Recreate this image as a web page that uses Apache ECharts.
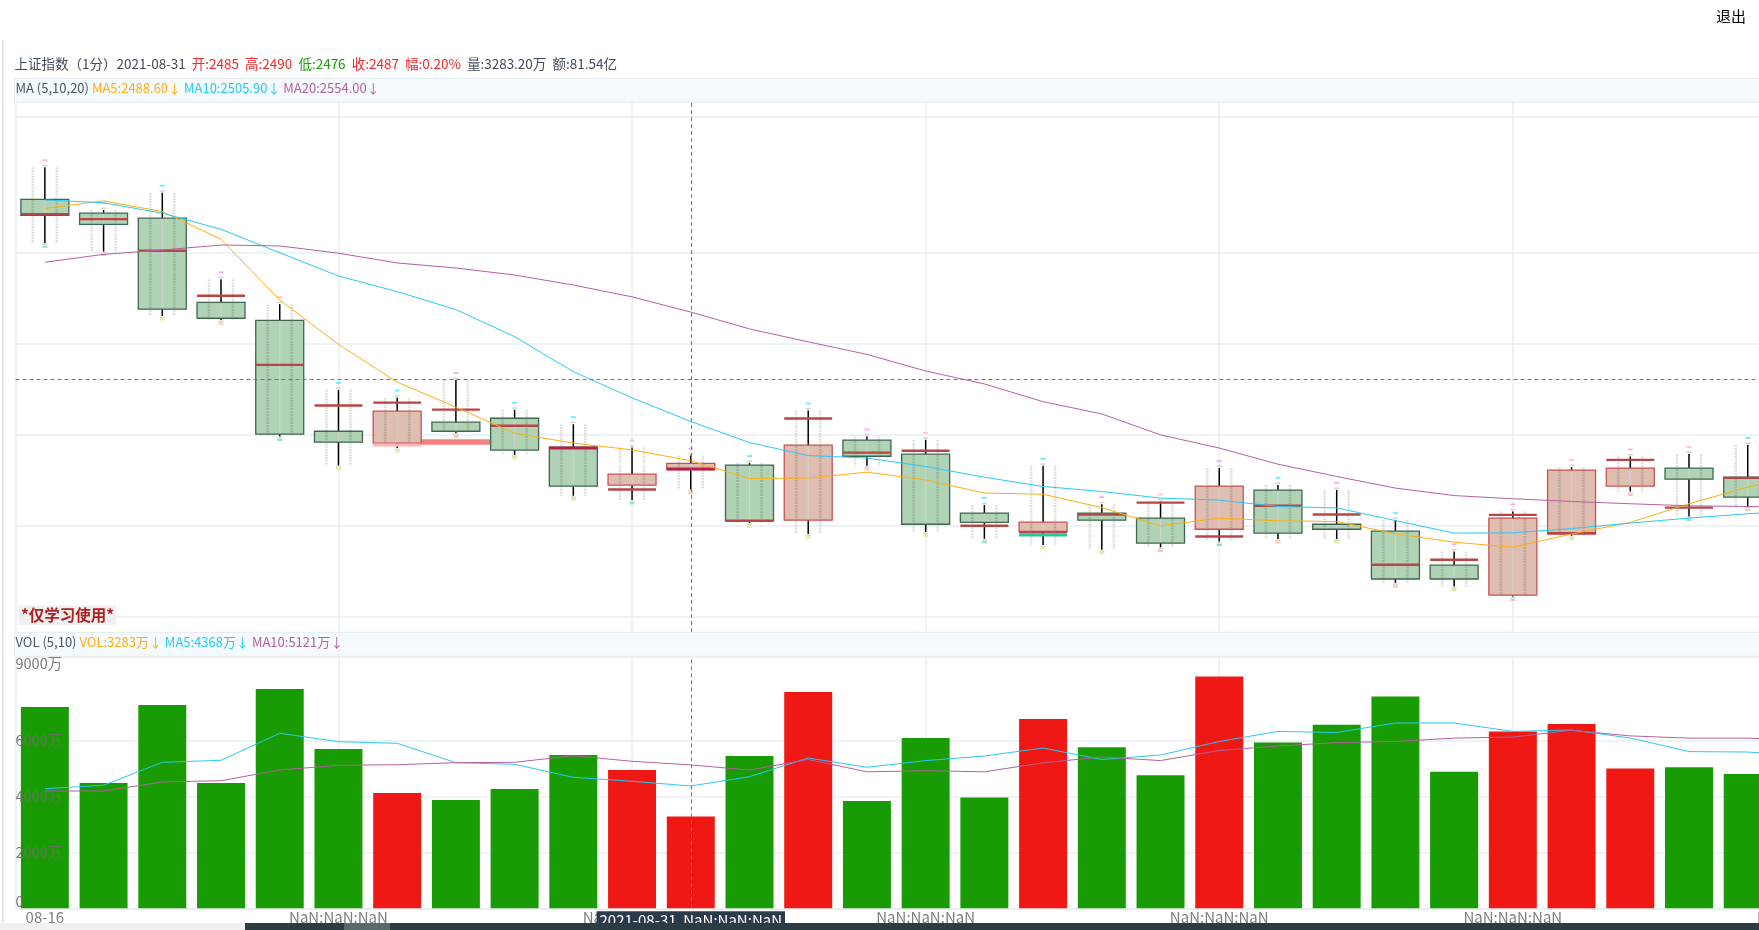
<!DOCTYPE html>
<html>
<head>
<meta charset="utf-8"/>
<title>上证指数 K线</title>
<style>
html,body{margin:0;padding:0;background:#fff;overflow:hidden}
#main{width:1759px;height:930px}
</style>
<script src="https://cdn.jsdelivr.net/npm/echarts@6/dist/echarts.min.js"></script>
</head>
<body>
<div id="main"></div>
<script>
var categories = ['2021-08-16','2021-08-17','2021-08-18','2021-08-19','2021-08-20','2021-08-23','2021-08-24','2021-08-25','2021-08-26','2021-08-27','2021-08-30','2021-08-31','2021-09-01','2021-09-02','2021-09-03','2021-09-06','2021-09-07','2021-09-08','2021-09-09','2021-09-10','2021-09-13','2021-09-14','2021-09-15','2021-09-16','2021-09-17','2021-09-20','2021-09-21','2021-09-22','2021-09-23','2021-09-24','2021-09-27'];
var firstTick = '08-16';
var otherTick = 'NaN:NaN:NaN';
var opens  = [2603.6,2597.5,2595.3,2558.3,2550.4,2501.6,2496.4,2505.6,2507.3,2494.6,2477.9,2484.7,2486.7,2462.5,2497.7,2491.5,2465.6,2457.5,2465.6,2463.4,2458.5,2475.7,2460.7,2457.7,2442.7,2429.5,2456.4,2477.5,2485.4,2481.4];
var closes = [2596.6,2592.6,2555.3,2551.3,2500.3,2496.8,2510.4,2501.6,2493.3,2477.5,2482.7,2487.5,2462.3,2495.5,2490.6,2460.7,2461.5,2461.6,2462.5,2452.4,2477.5,2456.8,2458.5,2436.6,2436.6,2463.4,2484.5,2485.4,2480.5,2472.6];
var lows   = [2584.3,2580.6,2552.3,2550.5,2499.3,2486.5,2494.2,2500.7,2491.2,2473.2,2471.4,2476,2461.2,2456.4,2486.4,2457.2,2454.3,2451.6,2449.5,2450.5,2453.1,2454.2,2454.2,2434.8,2433.3,2428.9,2455.6,2475.1,2464.1,2468.5];
var highs  = [2617.7,2598.9,2606.5,2568.4,2557.5,2519.8,2516.4,2524.2,2511,2504.7,2494.4,2490.9,2487.6,2510.7,2499.3,2497.8,2469.2,2486.4,2469.5,2470.7,2485.4,2478,2475.8,2462.6,2448.7,2466.3,2485.8,2490.5,2491.6,2495.6];
var marks  = [2597,2594.9,2581,2561.2,2530.8,2512.9,2514.2,2511.1,2504,2494.2,2476,2485,2462.2,2507.2,2492.2,2493,2460,2457.2,2465,2470.2,2455.3,2468.8,2465,2442.9,2445.1,2464.8,2456.8,2489,2468,2481.1];
var topTags    = 'ppcmpccmccpmccmpccmpmcmcmmpmpc'.split('');
var bottomTags = 'tklotllolltolloltllotolololoto'.split('');
var strongMarks = [9, 11];
var sideMarks = [[6, 2495.5, 'k'], [17, 2456, 's']];
var band = [6, 8, 2498.1, 2495.7];
var ma5  = [2599.6,2602.9,2598.2,2586,2559.3,2539.8,2523.2,2512.2,2500.7,2496.4,2493.4,2488.6,2480.8,2481,2483.6,2480.2,2474.4,2473.9,2468,2460,2463.4,2462.2,2461.9,2456.5,2452.8,2450.6,2456.4,2461.5,2469.7,2477,2482.5];
var ma10 = [2603.3,2602.1,2597.5,2590.4,2580.1,2569.9,2563,2555.1,2543.2,2527.8,2516.3,2505.9,2496.6,2490.9,2489.8,2486.1,2481.4,2477.3,2475.1,2472.2,2471.3,2468.5,2467.9,2462.3,2456.8,2456.9,2458.8,2461.2,2463.4,2465.3,2467];
var ma20 = [2575.9,2579.4,2581.3,2583.5,2583.1,2579.9,2575.6,2573.4,2570.3,2565.9,2560.7,2554,2546.6,2540.9,2535.4,2528.1,2522.4,2514.6,2509.2,2500,2494.2,2487.1,2481.7,2476.6,2473.3,2471.9,2470.7,2469.7,2468.8,2468.5,2468.1];
var priceLines = [2420,2460,2500,2540,2580,2640];
var crossIndex = 11;
var crossPrice = 2524.5;
var volumes = [7189,4475,7261,4475,7832,5689,4118,3868,4261,5475,4939,3283,5439,7725,3833,6082,3954,6761,5754,4754,8282,5918,6557,7560,4875,6318,6582,4996,5036,4796];
var volMa5  = [4271,4393,5214,5286,6250,5950,5893,5200,5143,4679,4536,4368,4700,5368,5036,5275,5439,5725,5314,5475,5957,6318,6279,6618,6618,6318,6368,6082,5596,5582,5439];
var volMa10 = [4189,4189,4511,4557,4939,5107,5129,5200,5214,5450,5250,5121,4939,5314,4875,4914,4875,5196,5404,5275,5636,5796,5918,5957,6078,6118,6357,6157,6078,6078,5996];
var volTicks = [0,2000,4000,6000,9000];

var FONT = '"Noto Sans CJK SC", "Noto Sans", sans-serif';
var UP = '#f01814', DOWN = '#189b03';
var C_MA5 = '#ffae12', C_MA10 = '#2ac8f5', C_MA20 = '#b4619f';
var tagColors = {p:'#ffc7d2', c:'#6ff2f5', m:'#f7b3ee', t:'#8fdcd8', k:'#ffb4bc', l:'#d2f57d', o:'#ffc4a8', s:'#2fc29a'};

var chart = echarts.init(document.getElementById('main'));

function renderCandle(params, api) {
	var i = api.value(0), o = api.value(1), c = api.value(2);
	var x = api.coord([i, o])[0];
	var yO = api.coord([i, o])[1], yC = api.coord([i, c])[1];
	var yL = api.coord([i, api.value(3)])[1], yH = api.coord([i, api.value(4)])[1];
	var yM = api.coord([i, api.value(5)])[1];
	var up = c >= o;
	var w = api.size([1, 0])[0] * 0.817;
	var kids = [];
	function seg(x1, y1, x2, y2, style) {
		kids.push({type:'line', shape:{x1:x1, y1:y1, x2:x2, y2:y2}, style:style});
	}
	function rect(x0, y0, rw, rh, fill) {
		kids.push({type:'rect', shape:{x:x0, y:y0, width:rw, height:rh}, style:{fill:fill}});
	}
	var col = {stroke:'rgba(130,135,130,0.26)', lineWidth:2.6, lineDash:[2,0.8]};
	seg(x-12, yH, x-12, yL, col);
	seg(x+12, yH, x+12, yL, col);
	seg(x, yH, x, yL, {stroke:'#000', lineWidth:1.5});
	var top = Math.min(yO, yC), h = Math.abs(yO - yC);
	kids.push({type:'rect', shape:{x:x-w/2, y:top, width:w, height:h}, style:{
		fill: up ? '#e0bdb1' : '#b0d3b6', stroke: up ? '#c65353' : '#3f6650', lineWidth:1.3}});
	seg(x, top+1, x, top+h-1, {stroke:'#d2d2d2', lineWidth:1});
	seg(x-12, top+1, x-12, top+h-1, {stroke:'rgba(110,120,110,0.3)', lineWidth:2.6, lineDash:[2,0.8]});
	seg(x+12, top+1, x+12, top+h-1, {stroke:'rgba(110,120,110,0.3)', lineWidth:2.6, lineDash:[2,0.8]});
	var strong = strongMarks.indexOf(i) >= 0;
	rect(x-w/2, yM-(strong?1.5:1.2), w, strong?3:2.4, strong ? '#b81e48' : '#b84646');
	sideMarks.forEach(function (s) {
		if (s[0] === i) {
			var sy = api.coord([i, s[1]])[1];
			rect(x-w/2, sy-1.5, w, 3, tagColors[s[2]]);
		}
	});
	// tiny tags above and below the wick
	rect(x-2.5, yH-2.5, 5, 1.5, '#d4d4d4');
	rect(x-2.5, yH-8, 5, 2, tagColors[topTags[i]]);
	rect(x-2.5, yL+0.5, 5, 1.5, '#d4d4d4');
	rect(x-2.5, yL+2.5, 5, 2, tagColors[bottomTags[i]]);
	return {type:'group', children:kids};
}

function renderBand(params, api) {
	var a = api.coord([api.value(0), api.value(2)]);
	var b = api.coord([api.value(1), api.value(3)]);
	return {type:'rect', shape:{x:a[0], y:a[1], width:b[0]-a[0], height:b[1]-a[1]}, style:{fill:'#f58282'}};
}

var candleData = opens.map(function (o, i) {
	return [i, o, closes[i], lows[i], highs[i], marks[i]];
});
var volData = volumes.map(function (v, i) {
	return {value:v, itemStyle:{color: closes[i] >= opens[i] ? UP : DOWN}};
});

function axisX(gridIndex, withLabel) {
	return {
		type:'category', gridIndex:gridIndex, data:categories, boundaryGap:true,
		axisTick:{show:false},
		axisLine:{show:withLabel, onZero:false, lineStyle:{color:'#e6eef4', width:1.5}},
		axisLabel:{
			show:withLabel, interval:function (i) { return i % 5 === 0; }, margin:1,
			color:'#7f7f7f', fontSize:15, fontFamily:FONT, hideOverlap:false,
			formatter:function (v, i) { return i === 0 ? firstTick : otherTick; }
		},
		splitLine:{show:true, alignWithLabel:true, interval:function (i) { return i % 5 === 0 && i > 0; },
			lineStyle:{color:'#e6eef4', width:1.5}},
		axisPointer:{
			show:true, status:'show', value:crossIndex, type:'line', triggerTooltip:false,
			lineStyle:{color:'#777', type:[4,3], width:1},
			label:{
				show:withLabel, margin:3, padding:[1,3,1,3], borderRadius:0,
				backgroundColor:'#2c3a4b', color:'#fff', fontSize:15, fontFamily:FONT,
				formatter:function () { return categories[crossIndex] + '  ' + otherTick; }
			}
		}
	};
}

var option = {
	animation:false,
	backgroundColor:'#fff',
	textStyle:{fontFamily:FONT},
	grid:[
		{left:15.5, top:102, width:1820.3, height:530, outerBoundsMode:'none'},
		{left:15.5, top:656.3, width:1820.3, height:252, outerBoundsMode:'none'}
	],
	xAxis:[axisX(0, false), axisX(1, true)],
	yAxis:[
		{
			type:'value', gridIndex:0, min:2413.3, max:2646.4, scale:true,
			axisLine:{show:true, lineStyle:{color:'#e6eef4', width:1.5}},
			axisTick:{show:false, customValues:priceLines},
			axisLabel:{show:false, customValues:priceLines},
			splitLine:{show:true, lineStyle:{color:'#e6eef4', width:1.5}},
			axisPointer:{show:true, status:'show', value:crossPrice, triggerTooltip:false,
				lineStyle:{color:'#777', type:[4,3], width:1}, label:{show:false}}
		},
		{
			type:'value', gridIndex:1, min:0, max:9000,
			axisLine:{show:true, lineStyle:{color:'#e6eef4', width:1.5}},
			axisTick:{show:false, customValues:volTicks},
			axisLabel:{show:false, customValues:volTicks},
			splitLine:{show:true, lineStyle:{color:'#e6eef4', width:1.5}}
		},
		// same scale again, only to put the labels on top of the bars
		{
			type:'value', gridIndex:1, min:0, max:9000, z:10,
			position:'left',
			axisLine:{show:false}, splitLine:{show:false},
			axisTick:{show:false, customValues:volTicks},
			axisLabel:{
				inside:true, customValues:volTicks, margin:0, color:'rgba(110,110,110,0.9)', fontSize:14.5, fontFamily:FONT,
				verticalAlignMinLabel:'bottom', verticalAlignMaxLabel:'top',
				formatter:function (v) { return v === 0 ? '0' : v + '万'; }
			}
		}
	],
	title:[
		{left:14.5, top:57, padding:0, textStyle:{
			fontSize:13.5, fontWeight:'normal', color:'#3f4a5a', fontFamily:FONT,
			rich:{
				n:{color:'#3f4a5a', fontSize:13.5, fontFamily:FONT},
				r:{color:'#ef2b2b', fontSize:13.5, fontFamily:FONT},
				g:{color:'#1b9e0a', fontSize:13.5, fontFamily:FONT}
			}},
			text:'{n|上证指数（1分）2021-08-31}  {r|开:2485}  {r|高:2490}  {g|低:2476}  {r|收:2487}  {r|幅:0.20%}  {n|量:3283.20万}  {n|额:81.54亿}'
		},
		{left:15.5, top:82, padding:0, textStyle:{
			fontSize:13, fontWeight:'normal', fontFamily:FONT,
			rich:{
				n:{color:'#4b5563', fontSize:13, fontFamily:FONT},
				a:{color:C_MA5, fontSize:13, fontFamily:FONT},
				b:{color:C_MA10, fontSize:13, fontFamily:FONT},
				c:{color:C_MA20, fontSize:13, fontFamily:FONT}
			}},
			text:'{n|MA (5,10,20)} {a|MA5:2488.60↓} {b|MA10:2505.90↓} {c|MA20:2554.00↓}'
		},
		{left:15.5, top:636, padding:0, textStyle:{
			fontSize:13, fontWeight:'normal', fontFamily:FONT,
			rich:{
				n:{color:'#4b5563', fontSize:13, fontFamily:FONT},
				a:{color:C_MA5, fontSize:13, fontFamily:FONT},
				b:{color:C_MA10, fontSize:13, fontFamily:FONT},
				c:{color:C_MA20, fontSize:13, fontFamily:FONT}
			}},
			text:'{n|VOL (5,10)} {a|VOL:3283万↓} {b|MA5:4368万↓} {c|MA10:5121万↓}'
		},
		{left:19, top:605.5, padding:[2,2,2,2], backgroundColor:'#f0f0f0', textStyle:{
			fontSize:15.5, fontWeight:'bold', color:'#b01e1e', fontFamily:FONT},
			text:'*仅学习使用*'
		},
		{left:1716, top:9, padding:0, textStyle:{fontSize:15, fontWeight:'normal', color:'#000', fontFamily:FONT}, text:'退出'}
	],
	graphic:[
		{type:'rect', silent:true, z:-1, shape:{x:14.5, y:78.5, width:1745, height:23.5}, style:{fill:'#f5fafe', stroke:'#e2eaf0', lineWidth:1}},
		{type:'rect', silent:true, z:-1, shape:{x:14.5, y:632.3, width:1745, height:24}, style:{fill:'#f5fafe', stroke:'#e2eaf0', lineWidth:1}},
		{type:'rect', silent:true, z:-1, shape:{x:2, y:40, width:1.5, height:884}, style:{fill:'#e0e0e8'}},
		{type:'rect', silent:true, z:100, shape:{x:0, y:923, width:245, height:7}, style:{fill:'#f0f0f0'}},
		{type:'rect', silent:true, z:100, shape:{x:245, y:923, width:1514, height:7}, style:{fill:'#2b3c42'}},
		{type:'rect', silent:true, z:101, shape:{x:344, y:923, width:46, height:7}, style:{fill:'#5a6a6c'}}
	],
	series:[
		{name:'band', type:'custom', xAxisIndex:0, yAxisIndex:0, z:1, clip:false, silent:true,
			renderItem:renderBand, data:[band], encode:{x:[0,1], y:[2,3]}},
		{name:'K', type:'custom', xAxisIndex:0, yAxisIndex:0, z:2, silent:true,
			renderItem:renderCandle, data:candleData, encode:{x:0, y:[1,2,3,4]}},
		{name:'MA5', type:'line', xAxisIndex:0, yAxisIndex:0, z:3, data:ma5, showSymbol:false, silent:true, lineStyle:{color:C_MA5, width:1}},
		{name:'MA10', type:'line', xAxisIndex:0, yAxisIndex:0, z:3, data:ma10, showSymbol:false, silent:true, lineStyle:{color:C_MA10, width:1}},
		{name:'MA20', type:'line', xAxisIndex:0, yAxisIndex:0, z:3, data:ma20, showSymbol:false, silent:true, lineStyle:{color:C_MA20, width:1}},
		{name:'VOL', type:'bar', xAxisIndex:1, yAxisIndex:1, z:2, data:volData, barWidth:'81.7%', silent:true},
		{name:'VMA5', type:'line', xAxisIndex:1, yAxisIndex:1, z:3, data:volMa5, showSymbol:false, silent:true, lineStyle:{color:C_MA10, width:1}},
		{name:'VMA10', type:'line', xAxisIndex:1, yAxisIndex:1, z:3, data:volMa10, showSymbol:false, silent:true, lineStyle:{color:C_MA20, width:1}}
	]
};
chart.setOption(option);
</script>
</body>
</html>
